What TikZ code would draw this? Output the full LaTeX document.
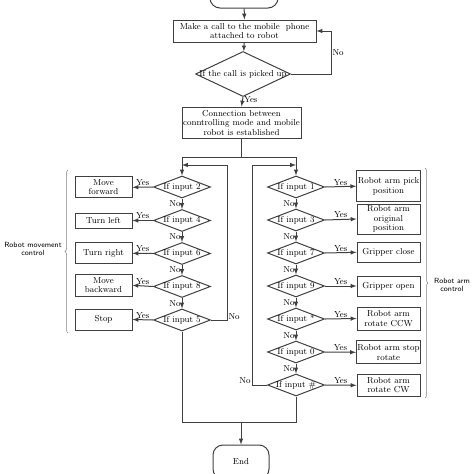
\documentclass[tikz,border=0pt]{standalone}
\usepackage{tikz}
\usetikzlibrary{positioning,shapes.geometric,decorations.pathreplacing}

\begin{document}
\begin{tikzpicture}[x=1pt,y=-1pt,>=latex,
		line/.style={draw=black!75,line width=1pt},
		box/.style={line,rectangle,align=center,inner sep=1pt,font=\fontsize{8.7}{9.5}\selectfont},
		dec/.style={line,diamond,inner sep=0pt,minimum width=57pt,minimum height=22pt,label={[font=\fontsize{8.7}{9.5}\selectfont]center:#1}},
		term/.style={line,rectangle,rounded corners=10pt,font=\fontsize{8.7}{9.5}\selectfont},
		yn/.style={font=\fontsize{8.7}{9.5}\selectfont,inner sep=1pt},
		grp/.style={draw=gray,line width=0.5pt,decorate,decoration={brace,amplitude=3pt}},
		side/.style={font=\sffamily\fontsize{7.5}{8.5}\selectfont,align=center,inner sep=0pt}]
		\useasboundingbox (0,0) rectangle (474,474);
		\node[term,minimum width=68pt,minimum height=32pt] (start) at (244,-8) {};
		\node[box,minimum width=143pt,minimum height=22pt] (call) at (244.5,31) {Make a call to the mobile\ \ phone\\attached to robot};
		\node[dec={If the call is picked up},minimum width=95pt,minimum height=45pt] (pick) at (243,74) {};
		\node[box,minimum width=119pt,minimum height=31pt] (conn) at (241.5,122.5) {Connection between\\conntrolling mode and mobile\\robot is established};
		\coordinate (split) at (241.5,157);
		\coordinate (lj) at (182,165);
		\coordinate (rj) at (296,165);
		\coordinate (mj) at (241,422);
		\node[dec={If input 2}] (d2) at (182,187) {};
		\node[dec={If input 4}] (d4) at (182,220.5) {};
		\node[dec={If input 6}] (d6) at (182,253.5) {};
		\node[dec={If input 8}] (d8) at (182,286.5) {};
		\node[dec={If input 5}] (d5) at (182,320) {};
		\node[box,minimum width=57pt,minimum height=21pt] (fwd) at (103.5,187.3) {Move\\forward};
		\node[box,minimum width=57pt,minimum height=15pt] (left) at (103.5,220.5) {Turn left};
		\node[box,minimum width=57pt,minimum height=21pt] (right) at (103.5,253.3) {Turn right};
		\node[box,minimum width=57pt,minimum height=22.5pt] (back) at (103.5,285.3) {Move\\backward};
		\node[box,minimum width=57pt,minimum height=21pt] (stop) at (103.5,319.5) {Stop};
		\node[dec={If input 1}] (d1) at (296,187) {};
		\node[dec={If input 3}] (d3) at (296,220) {};
		\node[dec={If input 7}] (d7) at (296,253) {};
		\node[dec={If input 9}] (d9) at (296,286) {};
		\node[dec={If input *}] (dst) at (296,319) {};
		\node[dec={If input 0}] (d0) at (296,352) {};
		\node[dec={If input \#}] (dh) at (296,385) {};
		\node[box,minimum width=63pt,minimum height=31pt] (armpick) at (388.5,186.2) {Robot arm pick\\position};
		\node[box,minimum width=63pt,minimum height=30pt] (armorig) at (388.5,219) {Robot arm\\original\\position};
		\node[box,minimum width=63pt,minimum height=20.5pt] (grclose) at (388.5,252.3) {Gripper close};
		\node[box,minimum width=63pt,minimum height=20pt] (gropen) at (388.5,286) {Gripper open};
		\node[box,minimum width=63pt,minimum height=23pt] (armccw) at (388.5,318.5) {Robot arm\\rotate CCW};
		\node[box,minimum width=63pt,minimum height=23pt] (armstop) at (388.5,352.3) {Robot arm stop\\rotate};
		\node[box,minimum width=63pt,minimum height=22.5pt] (armcw) at (388.5,385.3) {Robot arm\\rotate CW};
		\node[term,minimum width=56pt,minimum height=34pt] (end) at (241,462) {End};
		\node[side] (movelab) at (33,249) {Robot movement\\control};
		\node[side] (armlab) at (452,285) {Robot arm\\control};
		\draw[line,->] (start) -- (call);
		\draw[line,->] (call) -- (pick);
		\draw[line,->] (pick.east) -- ++(40,0) |- node[yn,right,pos=0.25] {No} (call.east);
		\draw[line,->] (pick.south) -- node[yn,right,pos=0.3] {Yes} (conn.north);
		\draw[line,->] (conn.south) -- (split) -| (d2.north);
		\draw[line,->] (split) -| (d1.north);
		\draw[line,->] (d2.south) -- node[yn,left] {No} (d4.north);
		\draw[line,->] (d4.south) -- node[yn,left] {No} (d6.north);
		\draw[line,->] (d6.south) -- node[yn,left] {No} (d8.north);
		\draw[line,->] (d8.south) -- node[yn,left] {No} (d5.north);
		\draw[line,->] (d2.west) -- node[yn,above] {Yes} (fwd.east);
		\draw[line,->] (d4.west) -- node[yn,above] {Yes} (left.east);
		\draw[line,->] (d6.west) -- node[yn,above] {Yes} (right.east);
		\draw[line,->] (d8.west) -- node[yn,above] {Yes} (back.east);
		\draw[line,->] (d5.west) -- node[yn,above] {Yes} (stop.east);
		\draw[line,->] (d5.east) -- ++(16,0) node[yn,right,yshift=3pt] {No} |- (lj);
		\draw[line,->] (d1.south) -- node[yn,left] {No} (d3.north);
		\draw[line,->] (d3.south) -- node[yn,left] {No} (d7.north);
		\draw[line,->] (d7.south) -- node[yn,left] {No} (d9.north);
		\draw[line,->] (d9.south) -- node[yn,left] {No} (dst.north);
		\draw[line,->] (dst.south) -- node[yn,left] {No} (d0.north);
		\draw[line,->] (d0.south) -- node[yn,left] {No} (dh.north);
		\draw[line,->] (d1.east) -- node[yn,above] {Yes} (armpick.west);
		\draw[line,->] (d3.east) -- node[yn,above] {Yes} (armorig.west);
		\draw[line,->] (d7.east) -- node[yn,above] {Yes} (grclose.west);
		\draw[line,->] (d9.east) -- node[yn,above] {Yes} (gropen.west);
		\draw[line,->] (dst.east) -- node[yn,above] {Yes} (armccw.west);
		\draw[line,->] (d0.east) -- node[yn,above] {Yes} (armstop.west);
		\draw[line,->] (dh.east) -- node[yn,above] {Yes} (armcw.west);
		\draw[line,->] (dh.west) -- ++(-15,0) node[yn,left,yshift=4pt] {No} |- (rj);
		\draw[line] (d5.south) |- (mj);
		\draw[line] (dh.south) |- (mj);
		\draw[line,->] (mj) -- (end.north);
		\draw[grp] (68,333) -- (68,170);
		\draw[grp] (425,168) -- (425,398);
\end{tikzpicture}
\end{document}
